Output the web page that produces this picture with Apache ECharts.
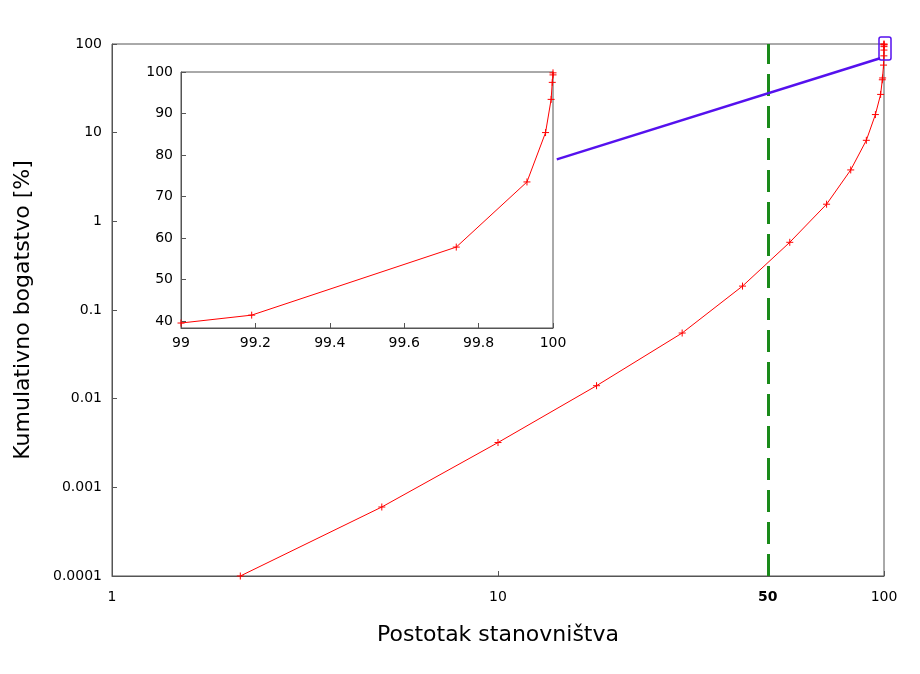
<!DOCTYPE html><html><head><meta charset="utf-8"><script src="https://cdn.jsdelivr.net/npm/echarts@6/dist/echarts.min.js"></script></head><body style="margin:0"><div id="c" style="width:920px;height:674px"></div><script>
const popX=[2.15,5,10,18,30,43,57,71,82,90,95,98,99,99.2,99.73,99.93,99.98,99.995,99.998,100,100];
const wealthY=[0.0001,0.0006,0.0032,0.014,0.055,0.186,0.58,1.56,3.8,8.2,16,27,39.5,41.4,57.8,73.5,85.4,93.4,97.5,99.3,99.8];
const insetX=[99,99.19,99.74,99.93,99.98,99.995,99.998,100,100];
const insetY=[39.5,41.4,57.8,73.5,85.4,93.4,97.5,99.3,99.8];
const xTicks=[1,10,50,100];
const yTicks=[0.0001,0.001,0.01,0.1,1,10,100];
const insetXTicks=[99,99.2,99.4,99.6,99.8,100];
const insetYTicks=[40,50,60,70,80,90,100];
const zoomLine=[[14.2,5.0],[97.7,69]];
const font='DejaVu Sans';
const ch=echarts.init(document.getElementById('c'));
const ax={axisLine:{lineStyle:{color:'#555'}},axisTick:{inside:true,lineStyle:{color:'#555'}},splitLine:{show:false},axisLabel:{color:'#000',fontFamily:font,fontSize:14}};
ch.setOption({animation:false,
grid:[{left:112,top:44,width:772,height:532,show:true,borderColor:'#555',backgroundColor:'transparent'},
{left:181,top:72,width:372,height:256,show:true,borderColor:'#555',backgroundColor:'#fff'}],
xAxis:[Object.assign({},ax,{type:'log',gridIndex:0,min:1,max:100,name:'Postotak stanovništva',nameLocation:'middle',nameGap:48,nameTextStyle:{fontFamily:font,fontSize:22,color:'#000'},
 axisLabel:Object.assign({},ax.axisLabel,{margin:14,customValues:xTicks,formatter:v=>{const s=String(Math.round(v));return s==='50'?'{b|50}':s;},rich:{b:{fontWeight:'bold',fontFamily:font,fontSize:14,color:'#000'}}}),axisTick:Object.assign({},ax.axisTick,{customValues:xTicks})}),
 Object.assign({},ax,{type:'value',gridIndex:1,min:99,max:100,axisLabel:Object.assign({},ax.axisLabel,{customValues:insetXTicks,formatter:v=>String(+v.toFixed(1))}),axisTick:Object.assign({},ax.axisTick,{customValues:insetXTicks})})],
yAxis:[Object.assign({},ax,{type:'log',gridIndex:0,min:0.0001,max:100,name:'Kumulativno bogatstvo [%]',nameLocation:'middle',nameGap:78,nameTextStyle:{fontFamily:font,fontSize:22,color:'#000'},
 axisLabel:Object.assign({},ax.axisLabel,{margin:10,customValues:yTicks,formatter:v=>String(+v.toPrecision(1))}),axisTick:Object.assign({},ax.axisTick,{customValues:yTicks})}),
 Object.assign({},ax,{type:'value',gridIndex:1,min:38.3,max:100,axisLabel:Object.assign({},ax.axisLabel,{customValues:insetYTicks}),axisTick:Object.assign({},ax.axisTick,{customValues:insetYTicks})})],
series:[
{type:'line',xAxisIndex:0,yAxisIndex:0,data:popX.map((x,i)=>[x,wealthY[i]]),symbol:'path://M0,5L10,5M5,0L5,10',symbolSize:7,lineStyle:{color:'#ff0000',width:1},itemStyle:{color:'#ff0000',borderColor:'#ff0000',borderWidth:1},z:3,
 markLine:{silent:true,symbol:'none',label:{show:false},lineStyle:{color:'#1a8a1a',width:3,type:[22,10]},data:[{xAxis:50}]}},
{type:'line',xAxisIndex:0,yAxisIndex:0,data:zoomLine,symbol:'none',lineStyle:{color:'#5511ee',width:2.5},z:5},
{type:'line',xAxisIndex:1,yAxisIndex:1,data:insetX.map((x,i)=>[x,insetY[i]]),symbol:'path://M0,5L10,5M5,0L5,10',symbolSize:7,lineStyle:{color:'#ff0000',width:1},itemStyle:{color:'#ff0000',borderColor:'#ff0000',borderWidth:1},z:10}
],
graphic:[{type:'rect',shape:{x:879,y:37,width:12,height:23,r:2},style:{fill:'none',stroke:'#5511ee',lineWidth:1.5},z:20}]
});
</script></body></html>
